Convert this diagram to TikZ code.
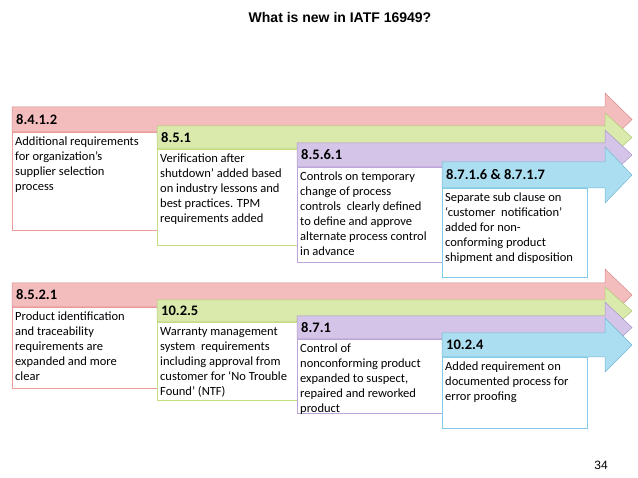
\documentclass[tikz,border=0pt]{standalone}
\usepackage{fontspec}
\setmainfont{Carlito}
\newfontfamily\titlefont{Liberation Sans}
\definecolor{redc}{HTML}{EE9A9A}
\definecolor{greenc}{HTML}{C4DE80}
\definecolor{purplec}{HTML}{BDA5DC}
\definecolor{bluec}{HTML}{80CCEA}

% #1 name, #2 colour, #3 left x, #4 band top, #5 band bottom, #6 head top, #7 box bottom, #8 title, #9 text
\newcommand{\stage}[9]{
    \filldraw[fill=#2!65, draw=#2!90!black, line width=0.5pt]
        (#3,#4) -- (605,#4) -- (605,#6) -- (632,{(#4+#5)/2}) -- (605,{#4+#5-#6})
        -- (605,#5) -- (#3,#5) -- cycle;
    \node[hdr, anchor=west] (#1h) at ({#3+3},{(#4+#5)/2}) {#8};
    \filldraw[fill=white, draw=#2, line width=0.8pt] (#3,#5) rectangle ({#3+145},#7);
    \node[body, anchor=north west] (#1t) at ({#3+1},{#5+3}) {#9};
}

\begin{document}
\begin{tikzpicture}[x=1pt,y=-1pt]
        \tikzstyle{hdr}=[inner sep=1pt, font=\fontsize{14.5}{16}\selectfont\bfseries];
        \tikzstyle{body}=[inner sep=2pt, align=left,
            font=\fontsize{12.5}{15}\selectfont];
        \useasboundingbox (0,0) rectangle (638,478);
        \node[font=\titlefont\fontsize{14}{16}\selectfont\bfseries] (title) at (340,18) {What is new in IATF 16949?};
        % first row
        \stage{a}{redc}{12}{107}{132}{93}{230}{8.4.1.2}{Additional requirements\\for organization’s\\supplier selection\\process}
        \stage{b}{greenc}{157}{126}{149}{113}{245}{8.5.1}{Verification after\\shutdown’ added based\\on industry lessons and\\best practices. TPM\\requirements added}
        \stage{c}{purplec}{297}{143}{167}{130}{262}{8.5.6.1}{Controls on temporary\\change of process\\controls\ \ clearly defined\\to define and approve\\alternate process control\\in advance}
        \stage{d}{bluec}{442}{162}{188}{147}{277}{8.7.1.6 \& 8.7.1.7}{Separate sub clause on\\‘customer\ \ notification’\\added for non-\\conforming product\\shipment and disposition}
        % second row
        \stage{e}{redc}{12}{283}{307}{269}{388}{8.5.2.1}{Product identification\\and traceability\\requirements are\\expanded and more\\clear}
        \stage{f}{greenc}{157}{300}{322}{287}{400}{10.2.5}{Warranty management\\system\ \ requirements\\including approval from\\customer for ‘No Trouble\\Found’ (NTF)}
        \stage{g}{purplec}{297}{316}{339}{302}{413}{8.7.1}{Control of\\nonconforming product\\expanded to suspect,\\repaired and reworked\\product}
        \stage{h}{bluec}{442}{333}{357}{318}{428}{10.2.4}{Added requirement on\\documented process for\\error proofing}
        \node[font=\titlefont\fontsize{12}{14}\selectfont] (page) at (601,465) {34};
    \end{tikzpicture}
\end{document}
